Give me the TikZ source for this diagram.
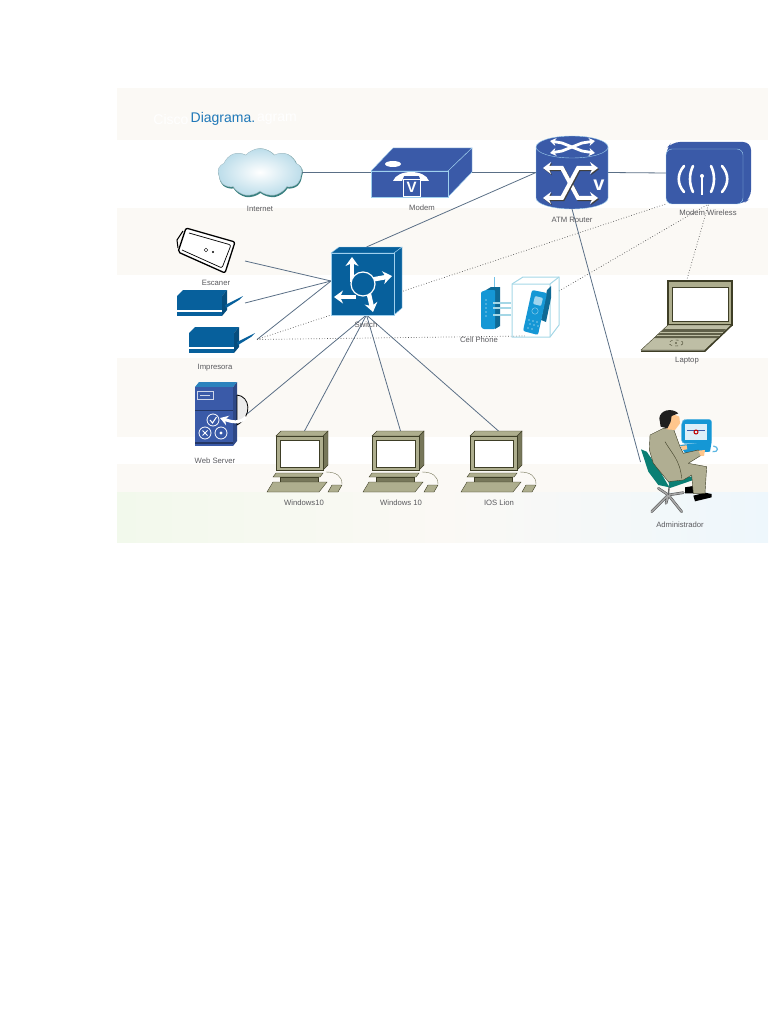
\documentclass[tikz,border=0pt]{standalone}
\usepackage{fontspec}
\setmainfont{Liberation Sans}
\usetikzlibrary{arrows.meta,shapes.symbols}
\definecolor{bandc}{HTML}{FBF9F5}
\definecolor{ciscoblue}{HTML}{3A5AA8}
\definecolor{switchblue}{HTML}{07609C}
\definecolor{edgeblue}{HTML}{9FD0EE}
\definecolor{linkc}{HTML}{5A6F86}
\definecolor{dotc}{HTML}{555555}
\definecolor{labelc}{HTML}{5A5A5E}
\definecolor{pcbody}{HTML}{AEAE8E}
\definecolor{pcdark}{HTML}{77775A}
\definecolor{pcline}{HTML}{3E3E26}
\definecolor{cellblue}{HTML}{1597D5}
\definecolor{wirec}{HTML}{A5D7E6}
\definecolor{suitc}{HTML}{B0AE92}
\definecolor{chairc}{HTML}{0B7F74}
\definecolor{cloudc}{HTML}{BCDDEA}
\definecolor{greenc}{HTML}{F2F9EC}
\definecolor{skyc}{HTML}{EEF7FC}
\definecolor{titlec}{HTML}{1F78B8}
\tikzset{
  pcunit/.pic={
    \filldraw[fill=pcdark,draw=pcline,thin] (47,0) -- (52,-5) -- (52,29) -- (47,34) -- cycle;
    \filldraw[fill=pcbody,draw=pcline,thin] (0,0) -- (5,-5) -- (52,-5) -- (47,0) -- cycle;
    \filldraw[fill=pcbody,draw=pcline,thin] (0,0) rectangle (47,34);
    \filldraw[fill=white,draw=pcline,thick] (4,4) rectangle (43,31);
    \filldraw[fill=pcbody,draw=pcline,thin] (-3,41) -- (0,37) -- (47,37) -- (44,41) -- cycle;
    \filldraw[fill=pcdark,draw=pcline,thin] (4,41) rectangle (42,46);
    \filldraw[fill=pcbody,draw=pcline,thin] (-9,56) -- (-3,46) -- (51,46) -- (43,56) -- cycle;
    \filldraw[fill=pcbody,draw=pcline,thin] (52,56) -- (56,49) -- (66,49) -- (62,56) -- cycle;
    \draw[pcdark,thin] (50,36) .. controls (60,36) and (66,40) .. (66,48);
  },
  printerunit/.pic={
    \fill[switchblue] (0,0) -- (6,-6) -- (50,-6) -- (45,0) -- cycle;
    \fill[switchblue!80!black] (45,0) -- (50,-6) -- (50,14) -- (45,20) -- cycle;
    \fill[switchblue] (0,0) rectangle (45,14);
    \fill[switchblue] (0,16) rectangle (45,20);
    \fill[switchblue] (48,9) -- (66,0) -- (62,4) -- (49,12) -- cycle;
  }
}
\begin{document}
\begin{tikzpicture}[
  x=1pt,y=-1pt,
  device/.style={inner sep=0pt,outer sep=0pt},
  lbl/.style={inner sep=0pt,text=labelc,font=\fontsize{7.7}{9}\selectfont},
  link/.style={draw=linkc,line width=0.8pt},
  wifi/.style={draw=dotc,line width=0.7pt,dotted},
  band/.style={fill=bandc,draw=none},
  whitearrow/.style={draw=white,line width=4.5pt,-{Stealth[length=9pt,width=13pt]}},
  bothways/.style={draw=white,line width=4pt,{Stealth[length=8pt,width=12pt]}-{Stealth[length=8pt,width=12pt]}},
  flatways/.style={draw=white,line width=2.8pt,{Stealth[length=6pt,width=8pt]}-{Stealth[length=6pt,width=8pt]}}
  ]
	\useasboundingbox (0,0) rectangle (768,1024);

	\fill[band] (117,88) rectangle (768,140);
	\fill[band] (117,208) rectangle (768,275);
	\fill[band] (117,358) rectangle (768,437);
	\fill[band] (117,464) rectangle (768,492);
	\shade[left color=greenc,right color=skyc,middle color=bandc,draw=none] (117,492) rectangle (768,542);

	\node[cloud,cloud puffs=9,cloud puff arc=100,aspect=1.7,minimum width=85pt,minimum height=50pt,inner sep=0pt,fill=teal!55!gray] (shadowcloud) at (260.5,173.5) {};
	\node[cloud,cloud puffs=9,cloud puff arc=100,aspect=1.7,minimum width=84pt,minimum height=48pt,inner sep=0pt,inner color=white,outer color=cloudc,draw=cloudc!70!gray,thin] (internet) at (260,172.5) {};
	\node[device,minimum width=101pt,minimum height=49pt] (modem) at (421.5,172.5) {};
	\node[device,minimum width=72pt,minimum height=73pt] (router) at (572,172.5) {};
	\node[device,minimum width=85pt,minimum height=62pt] (wireless) at (708.5,173) {};
	\node[device,minimum width=71pt,minimum height=68pt] (switch) at (366.5,281) {};
	\node[device,minimum width=68pt,minimum height=26pt] (printerone) at (211,303) {};
	\node[device,minimum width=68pt,minimum height=25pt] (printertwo) at (223,339.5) {};
	\node[device,minimum width=52pt,minimum height=64pt] (webserver) at (221,414) {};
	\node[device,minimum width=75pt,minimum height=61pt] (pcone) at (304.5,461.5) {};
	\node[device,minimum width=75pt,minimum height=61pt] (pctwo) at (400.5,461.5) {};
	\node[device,minimum width=75pt,minimum height=61pt] (pcthree) at (498.5,461.5) {};
	\node[device,minimum width=91pt,minimum height=69pt] (laptop) at (686.5,315.5) {};
	\node[device,minimum width=75pt,minimum height=106pt] (admin) at (678,462) {};
	\coordinate (scannerport) at (245,261);
	\coordinate (cellbottom) at (525,336);
	\coordinate (celltop) at (559,291);

	\draw[link] (internet.east) -- (modem.west);
	\draw[link] (modem.east) -- (router.west);
	\draw[link] (switch.north) -- (router.west);
	\draw[link] (router.east) -- (wireless.west);
	\draw[link] (scannerport) -- (switch.west);
	\draw[link] (printerone.east) -- (switch.west);
	\draw[link] (printertwo.east) -- (switch.west);
	\draw[link] (webserver.east) -- (switch.south);
	\draw[link] (pcone.north) -- (switch.south);
	\draw[link] (pctwo.north) -- (switch.south);
	\draw[link] (pcthree.north) -- (switch.south);
	\draw[wifi] (printertwo.east) -- (wireless.south west);
	\draw[wifi] (printertwo.east) -- (cellbottom);
	\draw[wifi] (celltop) -- (wireless.south);
	\draw[wifi] (laptop.north) -- (wireless.south);

	\filldraw[fill=ciscoblue,draw=edgeblue,thin] (371,171) -- (393,148) -- (472,148) -- (448,171) -- cycle;
	\filldraw[fill=ciscoblue,draw=edgeblue,thin] (448,171) -- (472,148) -- (472,172) -- (448,197) -- cycle;
	\filldraw[fill=ciscoblue,draw=edgeblue,thin] (371,171) rectangle (448,197);
	\fill[white] (393,164) ellipse (8 and 3);
	\fill[white] (393,181) .. controls (397,169) and (425,169) .. (429,181) -- (421,181) -- (419,176) -- (404,176) -- (402,181) -- cycle;
	\filldraw[fill=ciscoblue,draw=white,thick] (403,179) rectangle (420,196);
	\node[device,text=white,font=\bfseries\fontsize{15}{15}\selectfont] (modemv) at (411.5,187.5) {V};

	\filldraw[fill=ciscoblue,draw=edgeblue,thin] (536,147) -- (536,198) arc[start angle=180,end angle=0,x radius=36,y radius=11] -- (608,147) -- cycle;
	\filldraw[fill=ciscoblue,draw=edgeblue,thin] (572,147) ellipse (36 and 11);
	\draw[flatways] (550,141) -- (562,143) -- (582,151) -- (595,153);
	\draw[flatways] (550,153) -- (562,151) -- (582,143) -- (595,141);
	\draw[bothways,draw=black!75,shift={(1,1.2)}] (543,168) -- (562,168) -- (578,198) -- (598,198);
	\draw[bothways] (543,168) -- (562,168) -- (578,198) -- (598,198);
	\draw[bothways,draw=black!75,shift={(1,1.2)}] (543,198) -- (562,198) -- (578,168) -- (598,168);
	\draw[bothways] (543,198) -- (562,198) -- (578,168) -- (598,168);
	\node[device,text=white,font=\bfseries\fontsize{20}{20}\selectfont] (routerv) at (599,185) {v};

	\fill[ciscoblue,rounded corners=8pt] (672,142) -- (751,142) -- (751,198) -- (743,204) -- (666,204) -- (666,149) -- cycle;
	\filldraw[fill=ciscoblue,draw=edgeblue,thin,rounded corners=6pt] (666,149) rectangle (743,204);
	\foreach \wx/\wb in {684/677,693/689} {
		\draw[white,line width=2.6pt,line cap=round] (\wx,166) .. controls (\wb,174) and (\wb,184) .. (\wx,192);
	}
	\foreach \wx/\wb in {722/729,711/715} {
		\draw[white,line width=2.6pt,line cap=round] (\wx,166) .. controls (\wb,174) and (\wb,184) .. (\wx,192);
	}
	\draw[white,line width=1.6pt] (702,176) -- (702,195);
	\fill[white] (702,176) circle (2);

	\filldraw[fill=switchblue,draw=edgeblue,thin] (331,253) -- (339,247) -- (402,247) -- (394,253) -- cycle;
	\filldraw[fill=switchblue,draw=edgeblue,thin] (394,253) -- (402,247) -- (402,308) -- (394,315) -- cycle;
	\filldraw[fill=switchblue,draw=edgeblue,thin] (331,253) rectangle (394,315);
	\draw[whitearrow] (352,282) -- (352,257);
	\draw[whitearrow] (370,280) -- (392,276);
	\draw[whitearrow] (356,297) -- (334,297);
	\draw[whitearrow] (368,290) -- (373,312);
	\filldraw[fill=switchblue,draw=white,line width=1.2pt] (363,284) circle (12);

	\filldraw[fill=white,draw=black,line width=1.3pt,rounded corners=2pt] (186,228) -- (235,242) -- (225,273) -- (178,252) -- cycle;
	\draw[black,line width=0.7pt,rounded corners=2pt] (189,233) -- (231,245) -- (222,268) -- (182,250);
	\draw[black,line width=1pt] (183,231) -- (177,240) -- (178,248);
	\draw[black,thin] (206,250) circle (1.8);
	\fill[black] (213,252) circle (1.2);

	\pic (printtop) at (177,296) {printerunit};
	\pic (printlow) at (189,333) {printerunit};

	\filldraw[fill=ciscoblue!80!black,draw=none] (233,387) -- (237,382) -- (237,441) -- (233,446) -- cycle;
	\fill[ciscoblue!75!cyan] (195,387) -- (199,382) -- (237,382) -- (233,387) -- cycle;
	\fill[ciscoblue] (195,387) rectangle (233,446);
	\draw[ciscoblue!60!black,thick] (195,410) -- (233,410);
	\draw[ciscoblue!60!black,line width=1.6pt] (195,443) -- (233,443);
	\draw[white!75!ciscoblue,thin] (197,391) rectangle (213,399);
	\draw[white!75!ciscoblue,thin] (200,395) -- (210,395);
	\filldraw[fill=black!8,draw=black,line width=0.8pt] (237,395) .. controls (250,396) and (253,416) .. (237,425) -- (237,395);
	\draw[white,line width=3pt,-{Stealth[length=8pt,width=10pt]}] (246,417) .. controls (240,424) and (232,422) .. (220,418);
	\foreach \cx/\cy in {213/420,205/433,221/433} {
		\draw[white,line width=0.8pt] (\cx,\cy) circle (6);
	}
	\draw[white,line width=1pt] (210,420) -- (212.5,423) -- (216.5,417);
	\draw[white,line width=1pt] (202.5,430.5) -- (207.5,435.5) (207.5,430.5) -- (202.5,435.5);
	\fill[white] (221,433) circle (1.6);

	\pic (pcleft) at (276,436) {pcunit};
	\pic (pcmiddle) at (372,436) {pcunit};
	\pic (pcright) at (470,436) {pcunit};

	\draw[cellblue!60,thick] (494,277) -- (494,290);
	\fill[cellblue!70!black] (486,290) -- (491,287) -- (500,287) -- (500,326) -- (495,329) -- cycle;
	\fill[cellblue,rounded corners=1pt] (481,292) -- (486,290) -- (495,290) -- (495,329) -- (483,329) -- (481,327) -- cycle;
	\foreach \by in {300,304,308,312,316} {
		\fill[white] (486,\by) circle (0.6);
	}
	\foreach \by/\bx in {303/511,308/511,315/511} {
		\draw[wirec,line width=1.2pt] (493,\by) -- (\bx,\by);
	}
	\draw[wirec,line width=1pt] (512,284) -- (523,277) -- (559,277) -- (559,325) -- (550,337) -- (512,337) -- cycle;
	\draw[wirec,line width=1pt] (512,284) -- (550,284) -- (559,277) (550,284) -- (550,337);
	\fill[cellblue!70!black] (547,290) -- (551,286) -- (551,298) -- (546,322) -- (541,320) -- cycle;
	\fill[cellblue,rounded corners=2pt] (532,290) -- (547,293) -- (538,335) -- (523,331) -- cycle;
	\fill[white!60!cellblue,rounded corners=1pt] (535,296) -- (543,298) -- (541,306) -- (533,304) -- cycle;
	\draw[white!60!cellblue,thin] (535,311) circle (3.2);
	\foreach \kx/\ky in {529/320,533/321,537/322,530/324,534/325,538/326,528/328,532/329} {
		\fill[white] (\kx,\ky) circle (0.7);
	}

	\filldraw[fill=pcbody,draw=pcline,line width=1.2pt] (668,281) -- (732,281) -- (732,325) -- (668,325) -- cycle;
	\filldraw[fill=white,draw=pcline,thick] (672,287) rectangle (728,321);
	\filldraw[fill=pcbody!80!white,draw=pcline,thin] (641,350) -- (668,325) -- (732,325) -- (705,350) -- cycle;
	\draw[pcline,line width=1.5pt] (641,351) -- (705,351) -- (732,325);
	\fill[pcdark!80!black] (664,329) -- (726,329) -- (718,338) -- (654,338) -- cycle;
	\draw[pcbody!80!white,thin] (660,332) -- (723,332) (657,335) -- (720,335);
	\draw[pcline,thin,dashed] (676,343) ellipse (7 and 3);
	\fill[pcline] (676,343) circle (0.8);

	\begin{scope}[shift={(630,400)},x=0.3333pt,y=-0.3333pt]
		\draw[black!70,line width=2.6pt,line cap=round] (115,285) -- (65,335) (115,285) -- (155,335) (115,285) -- (85,265) (115,285) -- (160,278) (115,285) -- (108,310);
		\draw[black!35,line width=1.6pt,line cap=round] (115,285) -- (65,335) (115,285) -- (155,335) (115,285) -- (85,265) (115,285) -- (160,278) (115,285) -- (108,310);
		\draw[black!60,line width=1.4pt] (115,285) -- (118,255);
		\fill[black] (165,262) -- (190,258) -- (192,280) -- (165,280) -- cycle;
		\fill[black] (190,287) -- (225,278) -- (245,282) -- (245,292) -- (195,304) -- cycle;
		\fill[chairc] (33,148) -- (50,155) -- (85,205) -- (118,262) -- (85,255) -- (55,215) -- cycle;
		\fill[chairc] (115,245) -- (190,228) -- (190,240) -- (120,264) -- cycle;
		\filldraw[fill=cellblue,draw=cellblue!70!white,thin,rounded corners=3pt] (155,65) -- (165,58) -- (245,58) -- (245,130) -- (155,130) -- cycle;
		\fill[white!85!cellblue] (165,72) rectangle (232,120);
		\draw[ciscoblue,line width=1pt] (172,92) -- (225,92);
		\draw[red!75!black,line width=1pt] (198,96) circle (6);
		\filldraw[fill=cellblue,draw=none] (150,135) -- (245,125) -- (240,155) -- (165,160) -- cycle;
		\draw[cellblue!70!white,line width=1.2pt] (250,138) .. controls (268,140) and (265,158) .. (248,155);
		\filldraw[fill=suitc,draw=pcline,thin,line join=round] (60,105) -- (100,85) -- (130,85) -- (150,140) -- (160,160) -- (205,150) -- (215,165) -- (175,190) -- (230,200) -- (225,280) -- (190,280) -- (185,225) -- (160,240) -- (115,245) -- (70,190) -- (58,150) -- cycle;
		\draw[pcline,thin] (105,125) .. controls (125,160) and (150,180) .. (155,235);
		\fill[orange!45!white] (105,70) -- (125,40) -- (148,50) -- (150,70) -- (135,90) -- (110,88) -- cycle;
		\fill[black!88] (88,55) .. controls (90,30) and (125,22) .. (145,40) -- (125,48) -- (122,65) -- (112,85) -- (92,80) -- cycle;
		\fill[orange!45!white] (152,138) -- (170,136) -- (172,148) -- (158,150) -- cycle;
		\fill[orange!45!white] (205,152) -- (225,150) -- (222,168) -- (212,168) -- cycle;
	\end{scope}
	\draw[link] (router.south) -- (admin.west);

	\node[lbl] (lblinternet) at (260,209) {Internet};
	\node[lbl] (lblmodem) at (422,208) {Modem};
	\node[lbl] (lblrouter) at (572,220) {ATM Router};
	\node[lbl] (lblwireless) at (708,213) {Modem Wireless};
	\node[lbl] (lblscanner) at (216,283) {Escaner};
	\node[lbl] (lblprinter) at (215,368) {Impresora};
	\node[lbl] (lblswitch) at (366,325) {Switch};
	\node[lbl] (lblcell) at (479,340) {Cell Phone};
	\node[lbl] (lbllaptop) at (687,361) {Laptop};
	\node[lbl] (lblserver) at (215,461) {Web Server};
	\node[lbl] (lblpcone) at (304,503) {Windows10};
	\node[lbl] (lblpctwo) at (401,503) {Windows 10};
	\node[lbl] (lblpcthree) at (499,503) {IOS Lion};
	\node[lbl] (lbladmin) at (680,525) {Administrador};
	\node[device,text=white,font=\fontsize{14}{16}\selectfont] (titleleft) at (171,119) {Cisco};
	\node[device,text=titlec,font=\fontsize{14}{16}\selectfont] (titlemain) at (223,119) {Diagrama.};
	\node[device,text=white,font=\fontsize{14}{16}\selectfont] (titleright) at (277,119) {agram};
\end{tikzpicture}
\end{document}
